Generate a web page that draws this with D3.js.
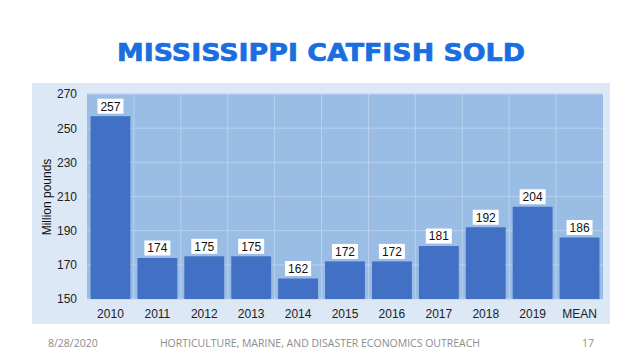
<!DOCTYPE html>
<html><head><meta charset="utf-8">
<script src="https://cdn.jsdelivr.net/npm/d3@7"></script>
<style>body{margin:0;background:#fff}svg{display:block}</style>
</head><body>
<script>
const categories = ["2010","2011","2012","2013","2014","2015","2016","2017","2018","2019","MEAN"];
const values = [257,174,175,175,162,172,172,181,192,204,186];
const yTicks = [150,170,190,210,230,250,270];

(function(){
const W=640,H=360;
const svg=d3.select("body").append("svg").attr("width",W).attr("height",H);
svg.append("rect").attr("width",W).attr("height",H).attr("fill","#fff");

svg.append("text").attr("x",117).attr("y",61)
  .attr("font-family","DejaVu Sans, Liberation Sans, sans-serif").attr("font-weight","bold")
  .attr("font-size",24.5).attr("fill","#1a6ee0").attr("stroke","#1a6ee0").attr("stroke-width",0.7)
  .attr("textLength",408).attr("lengthAdjust","spacingAndGlyphs")
  .text("MISSISSIPPI CATFISH SOLD");

// outer chart area
svg.append("rect").attr("x",32).attr("y",83).attr("width",578).attr("height",241).attr("fill","#dce8f6");

const pl=87,pr=603,pt=94,pb=299;
const x=d3.scaleBand().domain(categories).range([pl,pr]).paddingInner(0.15).paddingOuter(0.075);
const xg=d3.scaleBand().domain(categories).range([pl,pr]);
const y=d3.scaleLinear().domain([150,270]).range([pb,pt]);

svg.append("rect").attr("x",pl).attr("y",pt).attr("width",pr-pl).attr("height",pb-pt).attr("fill","#9abde6");

const g=svg.append("g");
g.selectAll("line.h").data(yTicks).join("line")
  .attr("x1",pl).attr("x2",pr).attr("y1",d=>y(d)).attr("y2",d=>y(d))
  .attr("stroke","#b9d0ee").attr("stroke-width",1);
g.selectAll("line.v").data(categories.slice(1)).join("line")
  .attr("x1",d=>xg(d)).attr("x2",d=>xg(d)).attr("y1",pt).attr("y2",pb)
  .attr("stroke","#b9d0ee").attr("stroke-width",1);

svg.selectAll("rect.bar").data(values).join("rect").attr("class","bar")
  .attr("x",(d,i)=>x(categories[i])).attr("width",x.bandwidth())
  .attr("y",d=>y(d)).attr("height",d=>pb-y(d)).attr("fill","#4270c4");

const lab=svg.selectAll("g.lab").data(values).join("g").attr("class","lab")
  .attr("transform",(d,i)=>`translate(${x(categories[i])+x.bandwidth()/2},${y(d)-10})`);
lab.append("rect").attr("x",-13).attr("y",-7.5).attr("width",26).attr("height",15).attr("fill","#fff");
lab.append("text").attr("text-anchor","middle").attr("dy","0.36em")
  .attr("font-family","Liberation Sans, Arial, sans-serif").attr("font-size",12).attr("fill","#111")
  .text(d=>d);

// axes
const ya=svg.append("g").attr("transform",`translate(${pl},0)`)
  .call(d3.axisLeft(y).tickValues(yTicks).tickSize(0).tickPadding(10));
ya.select(".domain").remove();
ya.selectAll("text").attr("font-family","Liberation Sans, Arial, sans-serif").attr("font-size",12).attr("fill","#222");

const xa=svg.append("g").attr("transform",`translate(0,${pb})`)
  .call(d3.axisBottom(x).tickSize(0).tickPadding(10));
xa.select(".domain").remove();
xa.selectAll("text").attr("font-family","Liberation Sans, Arial, sans-serif").attr("font-size",12).attr("fill","#222");

svg.append("text").attr("transform","translate(51,197) rotate(-90)").attr("text-anchor","middle")
  .attr("font-family","Liberation Sans, Arial, sans-serif").attr("font-size",12).attr("fill","#111")
  .text("Million pounds");

const foot={"font-family":"Open Sans, sans-serif","font-size":10.5,"fill":"#8c8c8c"};
function ft(t,xx,anchor){const e=svg.append("text").attr("x",xx).attr("y",347).attr("text-anchor",anchor).text(t);for(const k in foot)e.attr(k,foot[k]);}
ft("8/28/2020",48,"start");
ft("HORTICULTURE, MARINE, AND DISASTER ECONOMICS OUTREACH",320,"middle");
ft("17",588,"middle");
})();
</script>
</body></html>
